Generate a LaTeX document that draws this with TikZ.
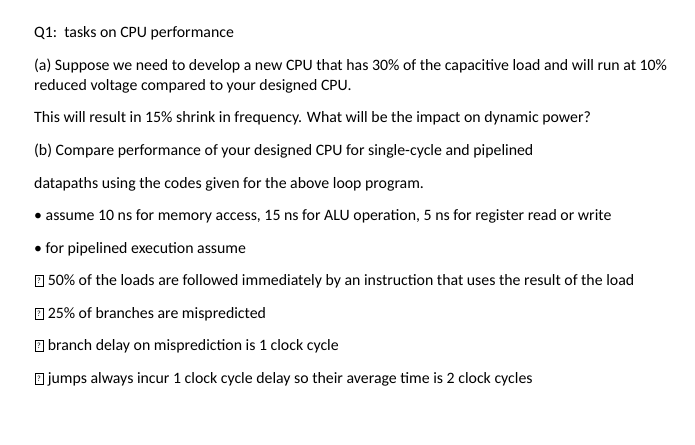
\documentclass[tikz,border=0pt]{standalone}
\usepackage{fontspec}
\setmainfont{Carlito}
\begin{document}
\begin{tikzpicture}[x=1bp,y=-1bp,
  txt/.style={anchor=west,inner sep=0pt,font=\fontsize{15.9}{18}\selectfont},
  qbox/.style={draw,line width=0.5bp,minimum width=8bp,minimum height=11bp,inner sep=0pt,font=\fontsize{8}{8}\selectfont}]
\useasboundingbox (0,0) rectangle (695,445);
\node[txt] (l1) at (34,33) {Q1:\ \ tasks on CPU performance};
\node[txt] (l2) at (34,66) {(a) Suppose we need to develop a new CPU that has 30\% of the capacitive load and will run at 10\%};
\node[txt] (l3) at (34,86) {reduced voltage compared to your designed CPU.};
\node[txt] (l4) at (34,118) {This will result in 15\% shrink in frequency. What will be the impact on dynamic power?};
\node[txt] (l5) at (34,151) {(b) Compare performance of your designed CPU for single-cycle and pipelined};
\node[txt] (l6) at (34,184) {datapaths using the codes given for the above loop program.};
\node[txt] (l7) at (34,216) {\textbullet\ assume 10 ns for memory access, 15 ns for ALU operation, 5 ns for register read or write};
\node[txt] (l8) at (34,249) {\textbullet\ for pipelined execution assume};
\node[qbox] (b1) at (39,281) {?};
\node[txt] (l9) at (44,281) {\ 50\% of the loads are followed immediately by an instruction that uses the result of the load};
\node[qbox] (b2) at (39,314) {?};
\node[txt] (l10) at (44,314) {\ 25\% of branches are mispredicted};
\node[qbox] (b3) at (39,346) {?};
\node[txt] (l11) at (44,346) {\ branch delay on misprediction is 1 clock cycle};
\node[qbox] (b4) at (39,379) {?};
\node[txt] (l12) at (44,379) {\ jumps always incur 1 clock cycle delay so their average time is 2 clock cycles};
\end{tikzpicture}
\end{document}
